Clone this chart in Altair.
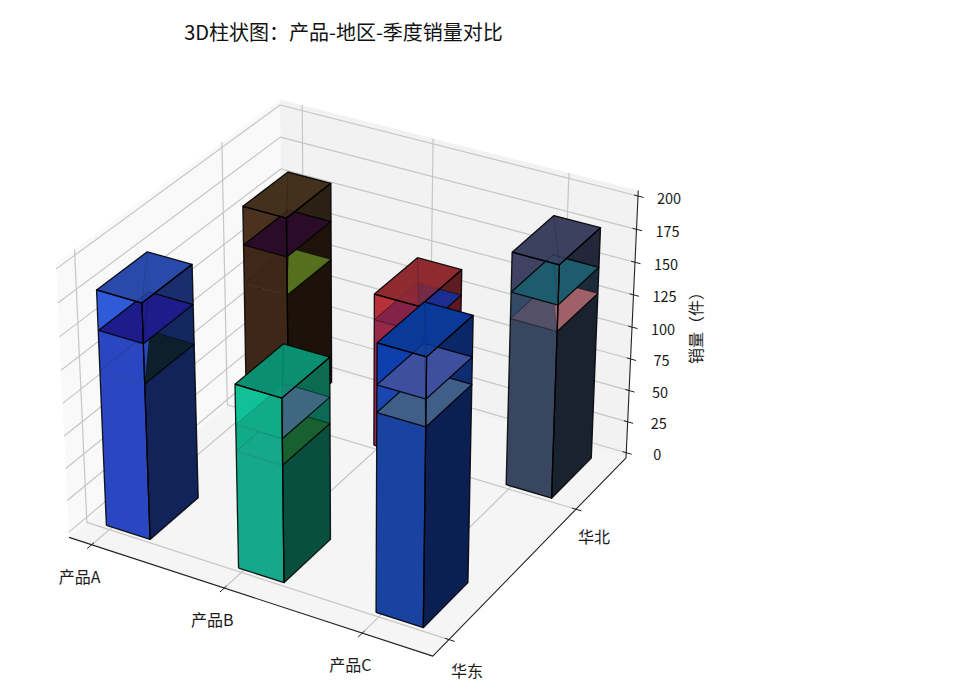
import altair as alt
import pandas as pd

products = ["产品A", "产品B", "产品C"]
regions = ["华东", "华北"]
# tallest / middle / lowest top per bar group
heights = {
    ("产品A", "华北"): [160, 130, 100],
    ("产品B", "华北"): [120, 100, 80],
    ("产品C", "华北"): [180, 150, 130],
    ("产品A", "华东"): [180, 150, 120],
    ("产品B", "华东"): [140, 110, 90],
    ("产品C", "华东"): [200, 170, 150],
}
z_ticks = [0, 25, 50, 75, 100, 125, 150, 175, 200]

# T3 top, left/right face bands top to bottom, T2 (left, right), T1 (left, right)
styles = {
    ("产品A", "华北"): dict(t3="#43301d", lf=["#4a3120", "#402819", "#3f2718"], rf=["#2b2013", "#1d130b", "#1c120a"], t2=["#2a0c28", "#2a0c28"], t1=["#3f2718", "#556f1f"]),
    ("产品B", "华北"): dict(t3="#8f2a32", lf=["#b83038", "#982848", "#982848"], rf=["#5c1c20", "#601820", "#601820"], t2=["#84234a", "#1b2e90"], t1=["#982848", "#601820"]),
    ("产品C", "华北"): dict(t3="#3d4160", lf=["#3f4262", "#354a66", "#38475f"], rf=["#23273a", "#1c2a3c", "#1a2230"], t2=["#1c5c6c", "#1c5c6c"], t1=["#55506a", "#a06068"]),
    ("产品A", "华东"): dict(t3="#2a4aab", lf=["#2f5ad8", "#2a46c0", "#2a46c0"], rf=["#1a2e6e", "#13265e", "#12235a"], t2=["#1e1c8a", "#1e1c8a"], t1=["#2a46c0", "#0e1f2c"]),
    ("产品B", "华东"): dict(t3="#0a9070", lf=["#10c096", "#12ab88", "#16a88a"], rf=["#0a6a52", "#0b6a55", "#094f40"], t2=["#12ab88", "#3d6880"], t1=["#16a88a", "#18602f"]),
    ("产品C", "华东"): dict(t3="#0a3a9a", lf=["#0e3fae", "#1a46b0", "#1a42a0"], rf=["#0a2868", "#0f2c70", "#0b1f52"], t2=["#3f4f9f", "#3f4f9f"], t1=["#3f5f88", "#3f5f88"]),
}

XLIM = (-0.174, 2.496)
YLIM = (-0.119, 1.428)
ZLIM = (-4.17, 204.17)
X_START, DX = -0.01, 0.335
Y_START, DY = -0.01, 0.335
SCALE, A, B = 3500.0, 352.7, 364.5  # view-plane units to picture
W, H = 960, 683

BOX = (1.1905, 1.1905, 0.8929)


def proj(u, v, w):
    X, Y, Z = (u - .5) * BOX[0], (v - .5) * BOX[1], (w - .5) * BOX[2]
    xv = .8660254 * X + .5 * Y
    yv = -.25 * X + .4330127 * Y + .8660254 * Z
    d = 10 - (.4330127 * X - .75 * Y + .5 * Z)
    return xv / d, yv / d


def P(x, y, z):
    return proj((x - XLIM[0]) / (XLIM[1] - XLIM[0]),
                (y - YLIM[0]) / (YLIM[1] - YLIM[0]),
                (z - ZLIM[0]) / (ZLIM[1] - ZLIM[0]))


rows = []
NONE = "rgba(0,0,0,0)"
counter = [0]


def poly(pts, fill=NONE, stroke=NONE, sw=1.0):
    pid = f"p{counter[0]:05d}"
    counter[0] += 1
    for i, (a, b) in enumerate(pts):
        rows.append(dict(id=pid, v=i, px=a, py=b, fill=fill, stroke=stroke, sw=sw))


def closed(pts):
    return list(pts) + [pts[0]]


# panes (unit cube)
U = proj
poly(closed([U(0, 0, 0), U(0, 1, 0), U(0, 1, 1), U(0, 0, 1)]), fill="#f9f9f9")
poly(closed([U(0, 1, 0), U(1, 1, 0), U(1, 1, 1), U(0, 1, 1)]), fill="#f2f2f2")
poly(closed([U(0, 0, 0), U(1, 0, 0), U(1, 1, 0), U(0, 1, 0)]), fill="#f5f5f5")

GRID = "#c6c6c6"
x0l, x1l = XLIM
y0l, y1l = YLIM
z0l, z1l = ZLIM
for z in z_ticks:
    poly([P(x0l, y0l, z), P(x0l, y1l, z), P(x1l, y1l, z)], stroke=GRID, sw=1.2)
for i, _ in enumerate(products):
    poly([P(i, y0l, z0l), P(i, y1l, z0l), P(i, y1l, z1l)], stroke=GRID, sw=1.2)
for j, _ in enumerate(regions):
    poly([P(x1l, j, z0l), P(x0l, j, z0l), P(x0l, j, z1l)], stroke=GRID, sw=1.2)

AXIS = "#222222"
poly([P(x0l, y0l, z0l), P(x1l, y0l, z0l), P(x1l, y1l, z0l), P(x1l, y1l, z1l)], stroke=AXIS, sw=1.1)
for i, _ in enumerate(products):
    poly([P(i, y0l + .016, z0l), P(i, y0l - .03, z0l)], stroke=AXIS, sw=1.0)
for j, _ in enumerate(regions):
    poly([P(x1l - .028, j, z0l), P(x1l + .04, j, z0l)], stroke=AXIS, sw=1.0)
for z in z_ticks:
    poly([P(x1l - .028, y1l, z), P(x1l + .04, y1l, z)], stroke=AXIS, sw=1.0)

EDGE = "rgba(0,0,0,0.88)"
SOFT = "rgba(0,0,0,0.14)"
MID = "rgba(0,0,0,0.5)"
for j, region in [(1, "华北"), (0, "华东")]:
    for i, product in enumerate(products):
        key = (product, region)
        h3, h2, h1 = heights[key]
        s = styles[key]
        x0, x1 = i + X_START, i + X_START + DX
        y0, y1 = j + Y_START, j + Y_START + DY

        def top(h):
            return P(x0, y0, h), P(x0, y1, h), P(x1, y1, h), P(x1, y0, h)  # left, back, right, front

        levels = [(h2, h3), (h1, h2), (0, h1)]
        lt, bk, rt, fr = top(h3)
        poly(closed([lt, bk, rt, fr]), fill=s["t3"])
        poly([P(x0, y1, 0), P(x0, y1, h3)], stroke=SOFT, sw=1)
        for (lo, hi), lf, rf in zip(levels, s["lf"], s["rf"]):
            poly(closed([P(x0, y0, lo), P(x1, y0, lo), P(x1, y0, hi), P(x0, y0, hi)]), fill=lf)
            poly(closed([P(x1, y0, lo), P(x1, y1, lo), P(x1, y1, hi), P(x1, y0, hi)]), fill=rf)
        for h, cols in [(h1, s["t1"]), (h2, s["t2"])]:
            a, b, c, d = top(h)
            poly(closed([a, b, d]), fill=cols[0])
            poly(closed([c, b, d]), fill=cols[1])
            poly([b, d], stroke=SOFT, sw=1)
            if cols[0] == cols[1]:
                poly(closed([a, b, c, d]), stroke=EDGE, sw=1.3)
            else:
                faint = cols[0] in s["lf"]
                poly([a, d], stroke=SOFT if faint else MID, sw=1.1)
                poly([a, b], stroke=SOFT if faint else MID, sw=1)
                poly([b, c], stroke=MID, sw=1)
                poly([c, d], stroke=EDGE, sw=1.3)
        # upper top seen over the back of the middle one
        poly(closed([lt, bk, rt, fr]), fill=s["t3"] + "c8")
        poly([bk, fr], stroke=SOFT, sw=1)
        poly(closed([lt, bk, rt, fr]), stroke=EDGE, sw=1.3)
        poly(closed([P(x0, y0, 0), P(x1, y0, 0), P(x1, y0, h3), P(x0, y0, h3)]), stroke=EDGE, sw=1.3)
        poly(closed([P(x1, y0, 0), P(x1, y1, 0), P(x1, y1, h3), P(x1, y0, h3)]), stroke=EDGE, sw=1.3)

df = pd.DataFrame(rows)

xs = alt.Scale(domain=[(8 - A) / SCALE, (8 + W - A) / SCALE], nice=False, zero=False)
ys = alt.Scale(domain=[(B - 8 - H) / SCALE, (B - 8) / SCALE], nice=False, zero=False)


def off(p, dx, dy):
    return p[0] + dx / SCALE, p[1] - dy / SCALE


labels = []
for i, name in enumerate(products):
    a, b = off(P(i, y0l, z0l), -12, 33)
    labels.append(dict(px=a, py=b, text=name, size=16))
for (j, name), (dx, dy) in zip(enumerate(regions), [(18, 32), (18, 29)]):
    a, b = off(P(x1l, j, z0l), dx, dy)
    labels.append(dict(px=a, py=b, text=name, size=16))
for z in z_ticks:
    a, b = off(P(x1l, y1l, z), 31, 3.5)
    labels.append(dict(px=a, py=b, text=str(z), size=14.5))
lab = pd.DataFrame(labels)

title_df = pd.DataFrame([dict(px=(343.5 - A) / SCALE, py=(B - 34) / SCALE, text="3D柱状图：产品-地区-季度销量对比")])
ylab_df = pd.DataFrame([dict(px=(697 - A) / SCALE, py=(B - 324) / SCALE, text="销量（件）")])

FONT = "Noto Sans CJK SC"
enc = dict(x=alt.X("px:Q", scale=xs, axis=None), y=alt.Y("py:Q", scale=ys, axis=None))

shapes = alt.Chart(df).mark_line(strokeJoin="round", strokeCap="butt").encode(
    **enc,
    detail="id:N",
    order="v:Q",
    fill=alt.Fill("fill:N", scale=None),
    stroke=alt.Stroke("stroke:N", scale=None),
    strokeWidth=alt.StrokeWidth("sw:Q", scale=None),
)
texts = alt.Chart(lab).mark_text(font=FONT, color="#1a1a1a", baseline="middle", align="center").encode(
    **enc, text="text:N", size=alt.Size("size:Q", scale=None))
title = alt.Chart(title_df).mark_text(font=FONT, fontSize=20, color="#111", baseline="middle", align="center").encode(**enc, text="text:N")
ylab = alt.Chart(ylab_df).mark_text(font=FONT, fontSize=16, color="#1a1a1a", angle=270, baseline="middle", align="center").encode(**enc, text="text:N")

chart = alt.layer(shapes, texts, title, ylab).properties(
    width=W, height=H, padding=0, autosize=alt.AutoSizeParams(type="none"),
    background="white",
).configure_view(stroke=None)

chart.save("out.html", embed_options={"renderer": "svg", "actions": False})
